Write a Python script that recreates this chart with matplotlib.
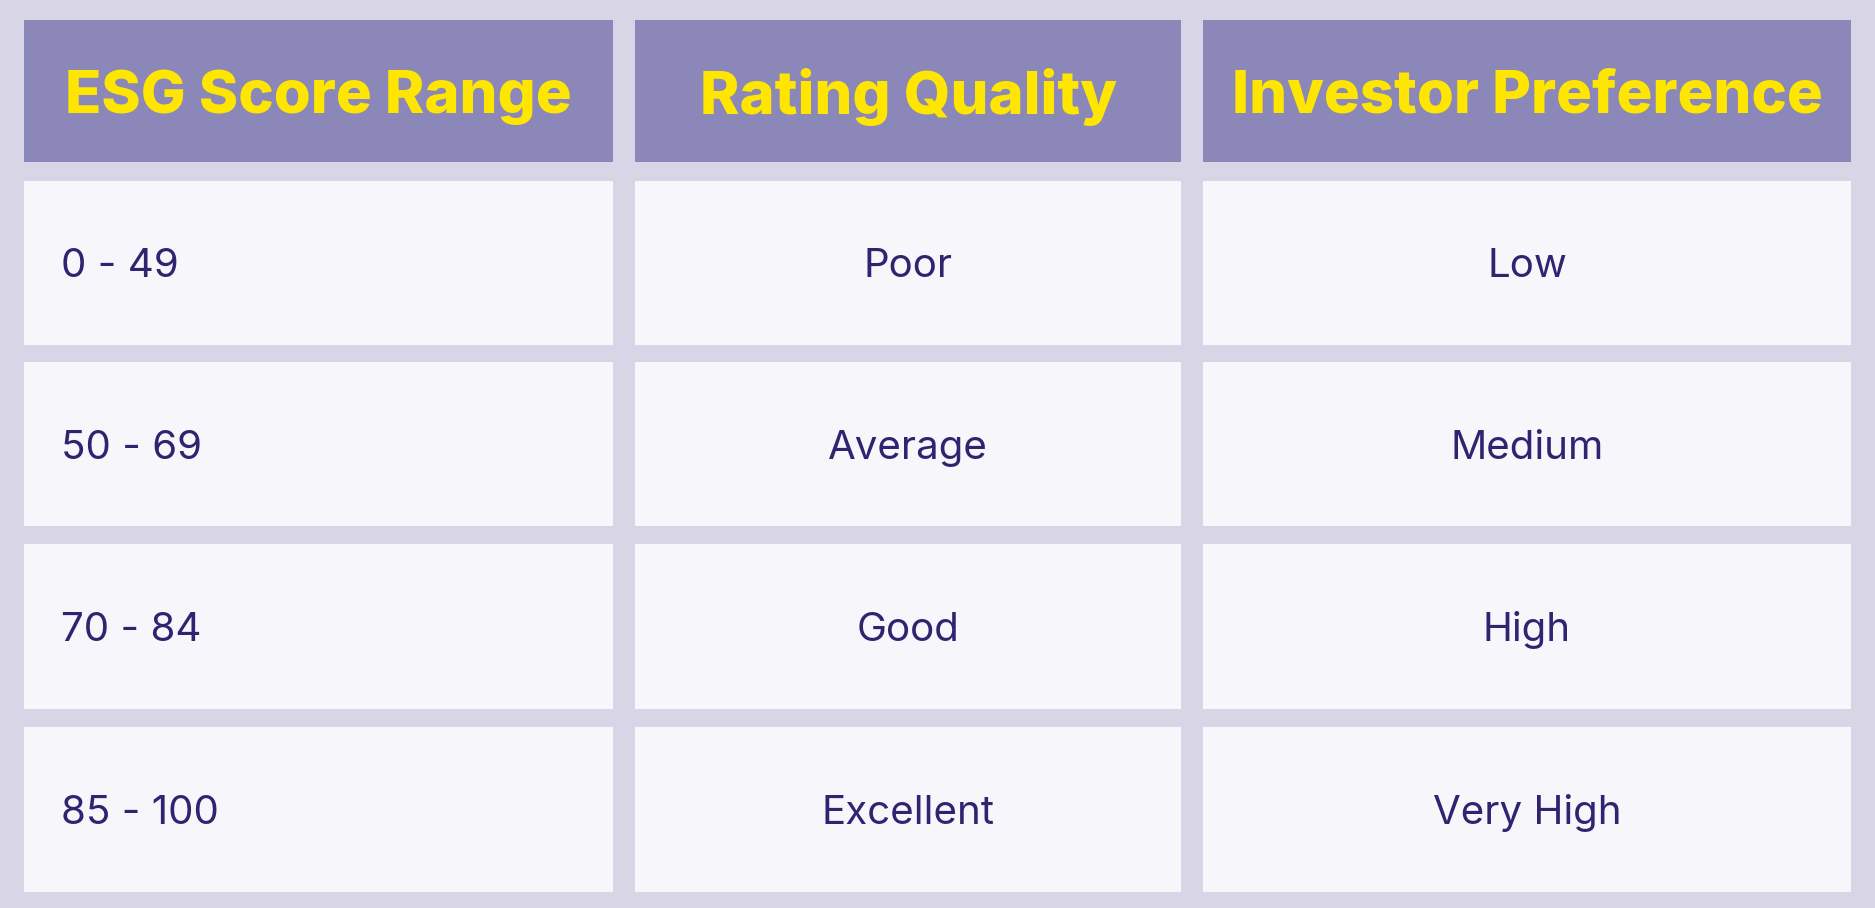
import matplotlib
matplotlib.use("Agg")
import matplotlib.pyplot as plt
from matplotlib.patches import Rectangle

headers = ["ESG Score Range", "Rating Quality", "Investor Preference"]
score_ranges = ["0 - 49", "50 - 69", "70 - 84", "85 - 100"]
rating_quality = ["Poor", "Average", "Good", "Excellent"]
investor_pref = ["Low", "Medium", "High", "Very High"]

# layout in reference units (1568 x 759 canvas)
W, H = 1568, 759
col_x = [(20, 513), (531, 988), (1006, 1548)]
header_y = (17, 135)
row_y = [(151, 288), (303, 440), (455, 593), (608, 746)]

bg = "#d8d5e6"
header_bg = "#8b87b8"
cell_bg = "#f7f6fb"
header_fg = "#ffe600"
body_fg = "#2e2470"

fig = plt.figure(figsize=(18.75, 9.08), dpi=100, facecolor=bg)
ax = fig.add_axes([0, 0, 1, 1])
ax.set_xlim(0, W)
ax.set_ylim(H, 0)
ax.axis("off")

for (x0, x1), label in zip(col_x, headers):
    ax.add_patch(Rectangle((x0, header_y[0]), x1 - x0, header_y[1] - header_y[0],
                           facecolor=header_bg, edgecolor="none"))
    ax.text((x0 + x1) / 2, (header_y[0] + header_y[1]) / 2 + 5, label,
            ha="center", va="center", color=header_fg, fontsize=43,
            fontweight="heavy", family=["Inter", "DejaVu Sans"])

columns = [score_ranges, rating_quality, investor_pref]
for ci, ((x0, x1), values) in enumerate(zip(col_x, columns)):
    for (y0, y1), val in zip(row_y, values):
        ax.add_patch(Rectangle((x0, y0), x1 - x0, y1 - y0,
                               facecolor=cell_bg, edgecolor="none"))
        yc = (y0 + y1) / 2 + 3
        if ci == 0:
            ax.text(x0 + 31, yc, val, ha="left", va="center", color=body_fg,
                    fontsize=29, family=["Inter", "DejaVu Sans"])
        else:
            ax.text((x0 + x1) / 2, yc, val, ha="center", va="center",
                    color=body_fg, fontsize=29, family=["Inter", "DejaVu Sans"])

fig.savefig("out.png", dpi=100, facecolor=bg)
